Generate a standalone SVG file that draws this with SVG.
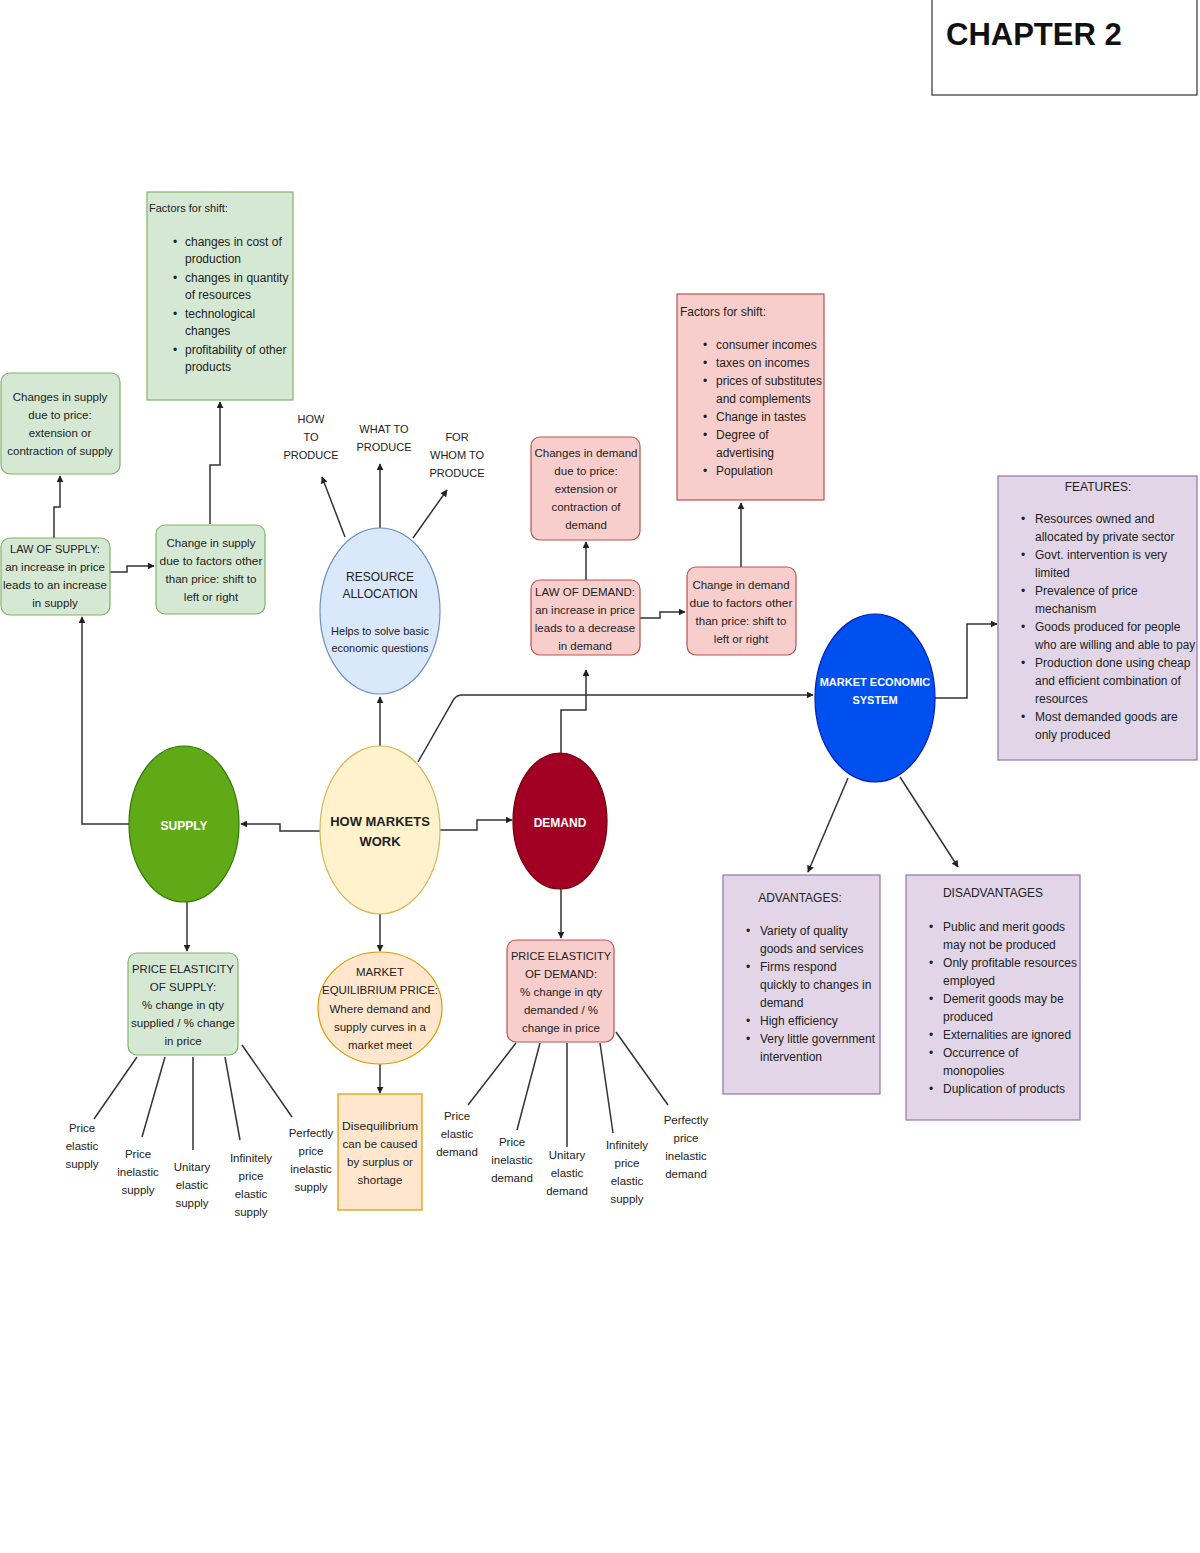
<svg xmlns="http://www.w3.org/2000/svg" width="1200" height="1553" viewBox="0 0 1200 1553">
<defs>
<marker id="arr" viewBox="0 0 10 10" refX="9" refY="5" markerWidth="7" markerHeight="7" orient="auto" markerUnits="userSpaceOnUse">
<path d="M0,0 L10,5 L0,10 Z" fill="#222"/>
</marker>
</defs>
<style>
text{font-family:"Liberation Sans",Arial,sans-serif;font-size:12px;fill:#222}
.c{text-anchor:middle}
.b{font-weight:bold}
.w{fill:#fff;font-weight:bold}
.s11{font-size:11px}
.bx{font-size:11.5px}
.lb{font-size:11.5px}
.green{fill:#d5e8d4;stroke:#82b366;stroke-width:1.2}
.red{fill:#f8cecc;stroke:#b85450;stroke-width:1.2}
.purple{fill:#e1d5e7;stroke:#9673a6;stroke-width:1.2}
.orange{fill:#ffe6cc;stroke:#d79b00;stroke-width:1.2}
.conn path,.conn line{fill:none;stroke:#333;stroke-width:1.5}
.arrow{marker-end:url(#arr)}
</style>
<rect width="1200" height="1553" fill="#fff"/>

<g id="chapter">
<rect x="932" y="-2" width="265" height="97" fill="#fff" stroke="#333" stroke-width="1.2"/>
<text x="946" y="45" class="b" style="font-size:31px;fill:#111">CHAPTER 2</text>
</g>

<g class="conn" id="connectors">
<line class="arrow" x1="380" y1="746" x2="380" y2="697"/>
<line class="arrow" x1="345" y1="537" x2="322" y2="477"/>
<line class="arrow" x1="380" y1="528" x2="380" y2="464"/>
<line class="arrow" x1="413" y1="538" x2="447" y2="490"/>
<path class="arrow" d="M320,831 H280 V824 H241"/>
<path class="arrow" d="M129,824 H82 V617"/>
<path class="arrow" d="M54,538 V507 H60 V476"/>
<path class="arrow" d="M110,572 H127 V566 H154"/>
<path class="arrow" d="M210,524 V465 H220 V402"/>
<path class="arrow" d="M187,902 V951"/>
<line class="arrow" x1="380" y1="914" x2="380" y2="951"/>
<line class="arrow" x1="380" y1="1064" x2="380" y2="1093"/>
<path class="arrow" d="M440,830 H477 V820 H512"/>
<line class="arrow" x1="561" y1="889" x2="561" y2="938"/>
<path class="arrow" d="M561,753 V710 H586 V670"/>
<path class="arrow" d="M418,762 L454,699 Q457,695 462,695 H813"/>
<line class="arrow" x1="586" y1="580" x2="586" y2="542"/>
<path class="arrow" d="M640,618 H660 V612 H685"/>
<line class="arrow" x1="741" y1="567" x2="741" y2="503"/>
<path class="arrow" d="M935,698 H967 V624 H997"/>
<line class="arrow" x1="848" y1="778" x2="808" y2="872"/>
<line class="arrow" x1="900" y1="777" x2="958" y2="867"/>
<line x1="137" y1="1057" x2="94" y2="1119"/>
<line x1="165" y1="1057" x2="142" y2="1137"/>
<line x1="193" y1="1057" x2="193" y2="1150"/>
<line x1="225" y1="1057" x2="240" y2="1140"/>
<line x1="242" y1="1045" x2="292" y2="1117"/>
<line x1="516" y1="1043" x2="468" y2="1105"/>
<line x1="540" y1="1043" x2="517" y2="1130"/>
<line x1="567" y1="1043" x2="567" y2="1147"/>
<line x1="600" y1="1043" x2="613" y2="1133"/>
<line x1="616" y1="1032" x2="668" y2="1105"/>
</g>

<g id="supply-factors">
<rect class="green" x="147" y="192" width="146" height="208"/>
<text x="149" y="212" class="s11">Factors for shift:</text>
<text x="173" y="246">•</text><text x="185" y="246">changes in cost of</text>
<text x="185" y="263">production</text>
<text x="173" y="282">•</text><text x="185" y="282">changes in quantity</text>
<text x="185" y="299">of resources</text>
<text x="173" y="318">•</text><text x="185" y="318">technological</text>
<text x="185" y="335">changes</text>
<text x="173" y="354">•</text><text x="185" y="354">profitability of other</text>
<text x="185" y="371">products</text>
</g>

<g id="supply-price-change">
<rect class="green" x="1" y="373" width="119" height="101" rx="9"/>
<text class="c bx" x="60" y="401">Changes in supply</text>
<text class="c bx" x="60" y="419">due to price:</text>
<text class="c bx" x="60" y="437">extension or</text>
<text class="c bx" x="60" y="455">contraction of supply</text>
</g>

<g id="law-of-supply">
<rect class="green" x="1" y="538" width="109" height="77" rx="9"/>
<text class="c s11" x="55" y="553">LAW OF SUPPLY:</text>
<text class="c bx" x="55" y="571">an increase in price</text>
<text class="c bx" x="55" y="589" textLength="104" lengthAdjust="spacingAndGlyphs">leads to an increase</text>
<text class="c bx" x="55" y="607">in supply</text>
</g>

<g id="supply-shift">
<rect class="green" x="156" y="525" width="109" height="89" rx="9"/>
<text class="c bx" x="211" y="547">Change in supply</text>
<text class="c bx" x="211" y="565" textLength="103" lengthAdjust="spacingAndGlyphs">due to factors other</text>
<text class="c bx" x="211" y="583">than price: shift to</text>
<text class="c bx" x="211" y="601">left or right</text>
</g>

<g id="how-to-produce">
<text class="c s11" x="311" y="423">HOW</text>
<text class="c s11" x="311" y="441">TO</text>
<text class="c s11" x="311" y="459">PRODUCE</text>
</g>
<g id="what-to-produce">
<text class="c s11" x="384" y="433">WHAT TO</text>
<text class="c s11" x="384" y="451">PRODUCE</text>
</g>
<g id="for-whom">
<text class="c s11" x="457" y="441">FOR</text>
<text class="c s11" x="457" y="459">WHOM TO</text>
<text class="c s11" x="457" y="477">PRODUCE</text>
</g>

<g id="resource-allocation">
<ellipse cx="380" cy="611" rx="60" ry="83" fill="#dae8fc" stroke="#6c8ebf" stroke-width="1.2"/>
<text class="c" x="380" y="581">RESOURCE</text>
<text class="c" x="380" y="598">ALLOCATION</text>
<text class="c s11" x="380" y="635">Helps to solve basic</text>
<text class="c s11" x="380" y="652">economic questions</text>
</g>

<g id="demand-price-change">
<rect class="red" x="531" y="437" width="109" height="103" rx="9"/>
<text class="c bx" x="586" y="457" textLength="103" lengthAdjust="spacingAndGlyphs">Changes in demand</text>
<text class="c bx" x="586" y="475">due to price:</text>
<text class="c bx" x="586" y="493">extension or</text>
<text class="c bx" x="586" y="511">contraction of</text>
<text class="c bx" x="586" y="529">demand</text>
</g>

<g id="demand-factors">
<rect class="red" x="677" y="294" width="147" height="206"/>
<text x="680" y="316">Factors for shift:</text>
<text x="703" y="349">•</text><text x="716" y="349">consumer incomes</text>
<text x="703" y="367">•</text><text x="716" y="367">taxes on incomes</text>
<text x="703" y="385">•</text><text x="716" y="385" textLength="106" lengthAdjust="spacingAndGlyphs">prices of substitutes</text>
<text x="716" y="403">and complements</text>
<text x="703" y="421">•</text><text x="716" y="421">Change in tastes</text>
<text x="703" y="439">•</text><text x="716" y="439">Degree of</text>
<text x="716" y="457">advertising</text>
<text x="703" y="475">•</text><text x="716" y="475">Population</text>
</g>

<g id="law-of-demand">
<rect class="red" x="531" y="580" width="109" height="75" rx="9"/>
<text class="c bx" x="585" y="596">LAW OF DEMAND:</text>
<text class="c bx" x="585" y="614">an increase in price</text>
<text class="c bx" x="585" y="632">leads to a decrease</text>
<text class="c bx" x="585" y="650">in demand</text>
</g>

<g id="demand-shift">
<rect class="red" x="687" y="567" width="109" height="88" rx="9"/>
<text class="c bx" x="741" y="589">Change in demand</text>
<text class="c bx" x="741" y="607" textLength="103" lengthAdjust="spacingAndGlyphs">due to factors other</text>
<text class="c bx" x="741" y="625">than price: shift to</text>
<text class="c bx" x="741" y="643">left or right</text>
</g>

<g id="features">
<rect class="purple" x="998" y="476" width="199" height="284"/>
<text class="c" x="1098" y="491">FEATURES:</text>
<text x="1021" y="523">•</text><text x="1035" y="523">Resources owned and</text>
<text x="1035" y="541">allocated by private sector</text>
<text x="1021" y="559">•</text><text x="1035" y="559">Govt. intervention is very</text>
<text x="1035" y="577">limited</text>
<text x="1021" y="595">•</text><text x="1035" y="595">Prevalence of price</text>
<text x="1035" y="613">mechanism</text>
<text x="1021" y="631">•</text><text x="1035" y="631">Goods produced for people</text>
<text x="1035" y="649" textLength="160" lengthAdjust="spacingAndGlyphs">who are willing and able to pay</text>
<text x="1021" y="667">•</text><text x="1035" y="667">Production done using cheap</text>
<text x="1035" y="685">and efficient combination of</text>
<text x="1035" y="703">resources</text>
<text x="1021" y="721">•</text><text x="1035" y="721">Most demanded goods are</text>
<text x="1035" y="739">only produced</text>
</g>

<g id="market-economic-system">
<ellipse cx="875" cy="698" rx="60" ry="84" fill="#0050ef" stroke="#001dbc" stroke-width="1.2"/>
<text class="c w" x="875" y="686" style="font-size:11px">MARKET ECONOMIC</text>
<text class="c w" x="875" y="704" style="font-size:11px">SYSTEM</text>
</g>

<g id="supply">
<ellipse cx="184" cy="824" rx="55" ry="78" fill="#60a917" stroke="#2d7600" stroke-width="1.2"/>
<text class="c w" x="184" y="830">SUPPLY</text>
</g>

<g id="how-markets-work">
<ellipse cx="380" cy="830" rx="60" ry="84" fill="#fff2cc" stroke="#d6b656" stroke-width="1.2"/>
<text class="c b" x="380" y="826" style="font-size:13px">HOW MARKETS</text>
<text class="c b" x="380" y="846" style="font-size:13px">WORK</text>
</g>

<g id="demand">
<ellipse cx="560" cy="821" rx="47" ry="68" fill="#a20025" stroke="#6f0000" stroke-width="1.2"/>
<text class="c w" x="560" y="827">DEMAND</text>
</g>

<g id="advantages">
<rect class="purple" x="723" y="875" width="157" height="219"/>
<text class="c" x="800" y="902">ADVANTAGES:</text>
<text x="746" y="935">•</text><text x="760" y="935">Variety of quality</text>
<text x="760" y="953">goods and services</text>
<text x="746" y="971">•</text><text x="760" y="971">Firms respond</text>
<text x="760" y="989">quickly to changes in</text>
<text x="760" y="1007">demand</text>
<text x="746" y="1025">•</text><text x="760" y="1025">High efficiency</text>
<text x="746" y="1043">•</text><text x="760" y="1043" textLength="115" lengthAdjust="spacingAndGlyphs">Very little government</text>
<text x="760" y="1061">intervention</text>
</g>

<g id="disadvantages">
<rect class="purple" x="906" y="875" width="174" height="245"/>
<text class="c" x="993" y="897">DISADVANTAGES</text>
<text x="929" y="931">•</text><text x="943" y="931">Public and merit goods</text>
<text x="943" y="949">may not be produced</text>
<text x="929" y="967">•</text><text x="943" y="967" textLength="134" lengthAdjust="spacingAndGlyphs">Only profitable resources</text>
<text x="943" y="985">employed</text>
<text x="929" y="1003">•</text><text x="943" y="1003">Demerit goods may be</text>
<text x="943" y="1021">produced</text>
<text x="929" y="1039">•</text><text x="943" y="1039" textLength="128" lengthAdjust="spacingAndGlyphs">Externalities are ignored</text>
<text x="929" y="1057">•</text><text x="943" y="1057">Occurrence of</text>
<text x="943" y="1075">monopolies</text>
<text x="929" y="1093">•</text><text x="943" y="1093">Duplication of products</text>
</g>

<g id="pes">
<rect class="green" x="128" y="953" width="110" height="102" rx="9"/>
<text class="c bx" x="183" y="973" textLength="102" lengthAdjust="spacingAndGlyphs">PRICE ELASTICITY</text>
<text class="c bx" x="183" y="991">OF SUPPLY:</text>
<text class="c bx" x="183" y="1009">% change in qty</text>
<text class="c bx" x="183" y="1027" textLength="104" lengthAdjust="spacingAndGlyphs">supplied / % change</text>
<text class="c bx" x="183" y="1045">in price</text>
</g>

<g id="market-equilibrium">
<ellipse cx="380" cy="1008" rx="62" ry="56" class="orange"/>
<text class="c bx" x="380" y="976">MARKET</text>
<text class="c bx" x="380" y="994" textLength="116" lengthAdjust="spacingAndGlyphs">EQUILIBRIUM PRICE:</text>
<text class="c bx" x="380" y="1013">Where demand and</text>
<text class="c bx" x="380" y="1031">supply curves in a</text>
<text class="c bx" x="380" y="1049">market meet</text>
</g>

<g id="disequilibrium">
<rect class="orange" x="338" y="1094" width="84" height="116"/>
<text class="c bx" x="380" y="1130" textLength="76" lengthAdjust="spacingAndGlyphs">Disequilibrium</text>
<text class="c bx" x="380" y="1148">can be caused</text>
<text class="c bx" x="380" y="1166">by surplus or</text>
<text class="c bx" x="380" y="1184">shortage</text>
</g>

<g id="ped">
<rect class="red" x="507" y="940" width="107" height="102" rx="9"/>
<text class="c bx" x="561" y="960" textLength="100" lengthAdjust="spacingAndGlyphs">PRICE ELASTICITY</text>
<text class="c bx" x="561" y="978">OF DEMAND:</text>
<text class="c bx" x="561" y="996">% change in qty</text>
<text class="c bx" x="561" y="1014">demanded / %</text>
<text class="c bx" x="561" y="1032">change in price</text>
</g>

<g id="supply-types">
<g id="s1"><text class="c lb" x="82" y="1132">Price</text><text class="c lb" x="82" y="1150">elastic</text><text class="c lb" x="82" y="1168">supply</text></g>
<g id="s2"><text class="c lb" x="138" y="1158">Price</text><text class="c lb" x="138" y="1176">inelastic</text><text class="c lb" x="138" y="1194">supply</text></g>
<g id="s3"><text class="c lb" x="192" y="1171">Unitary</text><text class="c lb" x="192" y="1189">elastic</text><text class="c lb" x="192" y="1207">supply</text></g>
<g id="s4"><text class="c lb" x="251" y="1162">Infinitely</text><text class="c lb" x="251" y="1180">price</text><text class="c lb" x="251" y="1198">elastic</text><text class="c lb" x="251" y="1216">supply</text></g>
<g id="s5"><text class="c lb" x="311" y="1137">Perfectly</text><text class="c lb" x="311" y="1155">price</text><text class="c lb" x="311" y="1173">inelastic</text><text class="c lb" x="311" y="1191">supply</text></g>
</g>

<g id="demand-types">
<g id="d1"><text class="c lb" x="457" y="1120">Price</text><text class="c lb" x="457" y="1138">elastic</text><text class="c lb" x="457" y="1156">demand</text></g>
<g id="d2"><text class="c lb" x="512" y="1146">Price</text><text class="c lb" x="512" y="1164">inelastic</text><text class="c lb" x="512" y="1182">demand</text></g>
<g id="d3"><text class="c lb" x="567" y="1159">Unitary</text><text class="c lb" x="567" y="1177">elastic</text><text class="c lb" x="567" y="1195">demand</text></g>
<g id="d4"><text class="c lb" x="627" y="1149">Infinitely</text><text class="c lb" x="627" y="1167">price</text><text class="c lb" x="627" y="1185">elastic</text><text class="c lb" x="627" y="1203">supply</text></g>
<g id="d5"><text class="c lb" x="686" y="1124">Perfectly</text><text class="c lb" x="686" y="1142">price</text><text class="c lb" x="686" y="1160">inelastic</text><text class="c lb" x="686" y="1178">demand</text></g>
</g>
</svg>
